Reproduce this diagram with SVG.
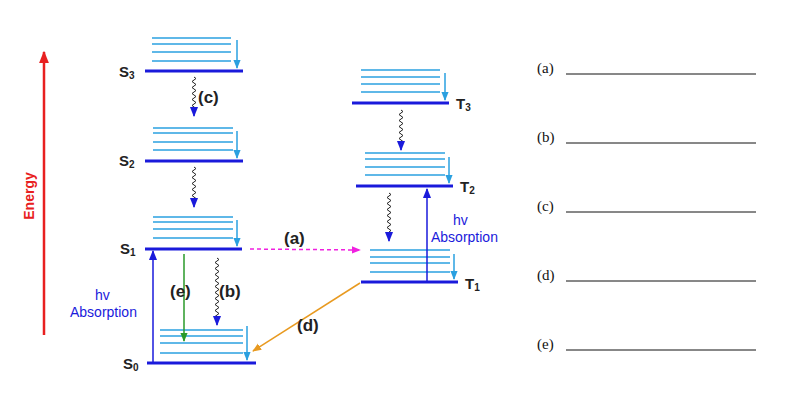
<svg xmlns="http://www.w3.org/2000/svg" width="791" height="402" viewBox="0 0 791 402">
<defs>
<marker id="ab" viewBox="0 0 10 10" refX="9" refY="5" markerWidth="7" markerHeight="7" orient="auto-start-reverse"><path d="M0,1 L10,5 L0,9 z" fill="#1a1adb"/></marker>
<marker id="al" viewBox="0 0 10 10" refX="9" refY="5" markerWidth="6" markerHeight="6" orient="auto"><path d="M0,1 L10,5 L0,9 z" fill="#2aa0e0"/></marker>
<marker id="ag" viewBox="0 0 10 10" refX="9" refY="5" markerWidth="6" markerHeight="6" orient="auto"><path d="M0,1 L10,5 L0,9 z" fill="#2a9a2a"/></marker>
<marker id="am" viewBox="0 0 10 10" refX="9" refY="5" markerWidth="6" markerHeight="6" orient="auto"><path d="M0,1 L10,5 L0,9 z" fill="#f020e0"/></marker>
<marker id="ao" viewBox="0 0 10 10" refX="9" refY="5" markerWidth="6" markerHeight="6" orient="auto"><path d="M0,1 L10,5 L0,9 z" fill="#e89a20"/></marker>
<marker id="ar" viewBox="0 0 10 10" refX="9" refY="5" markerWidth="5" markerHeight="5" orient="auto"><path d="M0,1 L10,5 L0,9 z" fill="#e82020"/></marker>
</defs>
<style>
.m{stroke:#1a1adb;stroke-width:3}
.v{stroke:#2aa0e0;stroke-width:1.5}
.d{stroke:#2aa0e0;stroke-width:1.5;marker-end:url(#al)}
.w{fill:none;stroke:#222;stroke-width:1}
.lb{font-family:"Liberation Sans",Arial,sans-serif;font-weight:bold;font-size:15px;fill:#222}
.ll{font-family:"Liberation Sans",Arial,sans-serif;font-weight:bold;font-size:17px;fill:#222}
.bl{font-family:"Liberation Sans",Arial,sans-serif;font-size:14px;fill:#1a1adb}
.q{font-family:"Liberation Serif","Times New Roman",serif;font-size:15px;fill:#111}
</style>
<rect width="791" height="402" fill="#fff"/>
<g id="energy">
<line x1="44" y1="335" x2="44" y2="52" stroke="#e82020" stroke-width="2.5" marker-end="url(#ar)"/>
<text transform="translate(34,196) rotate(-90)" text-anchor="middle" font-family="Liberation Sans,Arial,sans-serif" font-weight="bold" font-size="14" fill="#e82020">Energy</text>
</g>
<g id="S3">
<line class="v" x1="152" y1="38" x2="231" y2="38"/><line class="v" x1="152" y1="44" x2="231" y2="44"/><line class="v" x1="152" y1="52" x2="231" y2="52"/><line class="v" x1="152" y1="61" x2="231" y2="61"/>
<line class="d" x1="237" y1="40" x2="237" y2="68"/>
<line class="m" x1="145" y1="71" x2="243" y2="71"/>
<text class="lb" x="119" y="77">S<tspan font-size="10" dy="2">3</tspan></text>
</g>
<g id="S2">
<line class="v" x1="153" y1="128" x2="233" y2="128"/><line class="v" x1="153" y1="133" x2="233" y2="133"/><line class="v" x1="153" y1="142" x2="233" y2="142"/><line class="v" x1="153" y1="150" x2="233" y2="150"/>
<line class="d" x1="237" y1="131" x2="237" y2="158"/>
<line class="m" x1="145" y1="161" x2="243" y2="161"/>
<text class="lb" x="119" y="166">S<tspan font-size="10" dy="2">2</tspan></text>
</g>
<g id="S1">
<line class="v" x1="153" y1="217" x2="233" y2="217"/><line class="v" x1="153" y1="222" x2="233" y2="222"/><line class="v" x1="153" y1="229" x2="233" y2="229"/><line class="v" x1="153" y1="238" x2="233" y2="238"/>
<line class="d" x1="237" y1="220" x2="237" y2="246"/>
<line class="m" x1="145" y1="249" x2="242" y2="249"/>
<text class="lb" x="120" y="254">S<tspan font-size="10" dy="2">1</tspan></text>
</g>
<g id="S0">
<line class="v" x1="160" y1="330" x2="243" y2="330"/><line class="v" x1="160" y1="336" x2="243" y2="336"/><line class="v" x1="160" y1="343" x2="243" y2="343"/><line class="v" x1="160" y1="353" x2="243" y2="353"/>
<line class="d" x1="247" y1="326" x2="247" y2="360"/>
<line class="m" x1="147" y1="363" x2="256" y2="363"/>
<text class="lb" x="123" y="369">S<tspan font-size="10" dy="2">0</tspan></text>
</g>
<g id="T3">
<line class="v" x1="361" y1="70" x2="440" y2="70"/><line class="v" x1="361" y1="77" x2="440" y2="77"/><line class="v" x1="361" y1="84" x2="440" y2="84"/><line class="v" x1="361" y1="92" x2="440" y2="92"/>
<line class="d" x1="445" y1="73" x2="445" y2="100"/>
<line class="m" x1="352" y1="103" x2="449" y2="103"/>
<text class="lb" x="456" y="109">T<tspan font-size="10" dy="2">3</tspan></text>
</g>
<g id="T2">
<line class="v" x1="365" y1="153" x2="445" y2="153"/><line class="v" x1="365" y1="159" x2="445" y2="159"/><line class="v" x1="365" y1="167" x2="445" y2="167"/><line class="v" x1="365" y1="175" x2="445" y2="175"/>
<line class="d" x1="449" y1="157" x2="449" y2="183"/>
<line class="m" x1="356" y1="186" x2="453" y2="186"/>
<text class="lb" x="460" y="192">T<tspan font-size="10" dy="2">2</tspan></text>
</g>
<g id="T1">
<line class="v" x1="370" y1="250" x2="450" y2="250"/><line class="v" x1="370" y1="257" x2="450" y2="257"/><line class="v" x1="370" y1="263" x2="450" y2="263"/><line class="v" x1="370" y1="272" x2="450" y2="272"/>
<line class="d" x1="454" y1="254" x2="454" y2="279"/>
<line class="m" x1="361" y1="282" x2="458" y2="282"/>
<text class="lb" x="465" y="289">T<tspan font-size="10" dy="2">1</tspan></text>
</g>
<g id="connectors">
<path class="w" d="M194,77 l2,1.5 l-4,3 l4,3 l-4,3 l4,3 l-4,3 l4,3 l-4,3 l4,3 l-4,3 l4,3 l-2,1.5 v3"/>
<line x1="194" y1="109" x2="194" y2="116" stroke="#1a1adb" stroke-width="1.5" marker-end="url(#ab)"/>
<path class="w" d="M194,167 l2,1.5 l-4,3 l4,3 l-4,3 l4,3 l-4,3 l4,3 l-4,3 l4,3 l-4,3 l4,3 l-2,1.5 v3"/>
<line x1="194" y1="199" x2="194" y2="207" stroke="#1a1adb" stroke-width="1.5" marker-end="url(#ab)"/>
<path class="w" d="M217,258 l2,1.5 l-4,3 l4,3 l-4,3 l4,3 l-4,3 l4,3 l-4,3 l4,3 l-4,3 l4,3 l-4,3 l4,3 l-4,3 l4,3 l-4,3 l4,3 l-4,3 l4,3 l-4,3 l4,3 l-2,1.5 v2"/>
<line x1="217" y1="318" x2="217" y2="325" stroke="#1a1adb" stroke-width="1.5" marker-end="url(#ab)"/>
<path class="w" d="M401,110 l2,1.5 l-4,3 l4,3 l-4,3 l4,3 l-4,3 l4,3 l-4,3 l4,3 l-4,3 l4,3 l-2,1.5 v2"/>
<line x1="401" y1="142" x2="401" y2="150" stroke="#1a1adb" stroke-width="1.5" marker-end="url(#ab)"/>
<path class="w" d="M389,193 l2,1.5 l-4,3 l4,3 l-4,3 l4,3 l-4,3 l4,3 l-4,3 l4,3 l-4,3 l4,3 l-4,3 l4,3 l-2,1.5 v2"/>
<line x1="389" y1="233" x2="389" y2="241" stroke="#1a1adb" stroke-width="1.5" marker-end="url(#ab)"/>
<line x1="184" y1="254" x2="184" y2="341" stroke="#2a9a2a" stroke-width="1.5" marker-end="url(#ag)"/>
<line x1="153" y1="362" x2="153" y2="251" stroke="#1a1adb" stroke-width="1.5" marker-end="url(#ab)"/>
<line x1="427" y1="281" x2="427" y2="189" stroke="#1a1adb" stroke-width="1.5" marker-end="url(#ab)"/>
<line x1="250" y1="249" x2="360" y2="250" stroke="#f020e0" stroke-width="1.5" stroke-dasharray="4,3" marker-end="url(#am)"/>
<line x1="360" y1="283" x2="253" y2="351" stroke="#e89a20" stroke-width="1.5" marker-end="url(#ao)"/>
</g>
<g id="labels">
<text class="ll" x="198" y="103">(c)</text>
<text class="ll" x="284" y="244">(a)</text>
<text class="ll" x="170" y="297">(e)</text>
<text class="ll" x="219" y="297">(b)</text>
<text class="ll" x="297" y="331">(d)</text>
<text class="bl" x="95" y="300">hv</text>
<text class="bl" x="70" y="317">Absorption</text>
<text class="bl" x="453" y="225">hv</text>
<text class="bl" x="431" y="242">Absorption</text>
</g>
<g id="answers">
<text class="q" x="537" y="73">(a)</text><line x1="566" y1="74" x2="756" y2="74" stroke="#111" stroke-width="1"/>
<text class="q" x="537" y="142">(b)</text><line x1="566" y1="143" x2="756" y2="143" stroke="#111" stroke-width="1"/>
<text class="q" x="537" y="211">(c)</text><line x1="566" y1="212" x2="756" y2="212" stroke="#111" stroke-width="1"/>
<text class="q" x="537" y="280">(d)</text><line x1="566" y1="281" x2="756" y2="281" stroke="#111" stroke-width="1"/>
<text class="q" x="537" y="349">(e)</text><line x1="566" y1="350" x2="756" y2="350" stroke="#111" stroke-width="1"/>
</g>
</svg>
